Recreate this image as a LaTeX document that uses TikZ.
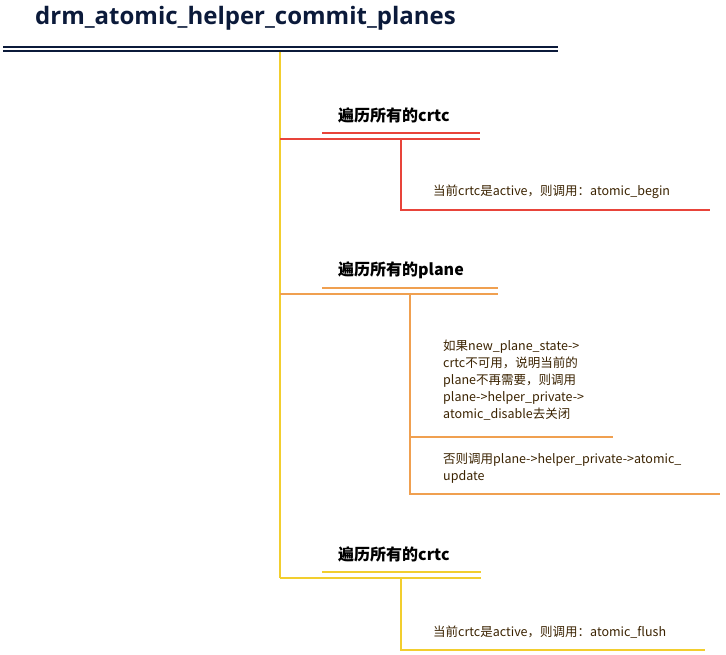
\documentclass[tikz,border=0pt]{standalone}
\usepackage{fontspec}
\setmainfont{Noto Sans CJK SC}
\newfontfamily\titlefont{Open Sans}
\definecolor{cred}{HTML}{E8443A}
\definecolor{corg}{HTML}{F0A050}
\definecolor{cyel}{HTML}{F2CE2E}
\definecolor{cnavy}{HTML}{0B1A3A}
\definecolor{ctext}{HTML}{3A2200}
\begin{document}
\begin{tikzpicture}[x=1pt,y=-1pt,
  lbl/.style={anchor=west,inner sep=0,font=\fontsize{16}{18}\selectfont\bfseries,text=black},
  leaf/.style={anchor=north west,inner sep=0,font=\fontsize{12.5}{17}\selectfont,text=ctext,align=left},
  ln/.style={line width=1.6pt}]
\useasboundingbox (0,0) rectangle (726,655);
\node[anchor=west,inner sep=0,font=\titlefont\fontsize{24}{26}\selectfont\bfseries,text=cnavy] (title) at (35,18) {drm\_atomic\_helper\_commit\_planes};
\draw[cnavy,line width=1.6pt] (3,47) -- (558,47) (3,51) -- (558,51);
\coordinate (root) at (280,52);
\draw[cyel,ln] (root) -- (280,578);
% branch 1
\node[lbl] (b1) at (338,115) {遍历所有的crtc};
\draw[cred,ln] (280,139) -- (480,139) (322,133) -- (480,133);
\draw[cred,ln] (401,139) -- (401,210) -- (710,210);
\node[leaf] (l1) at (433,185) {当前crtc是active，则调用：atomic\_begin};
% branch 2
\node[lbl] (b2) at (338,270) {遍历所有的plane};
\draw[corg,ln] (280,294) -- (498,294) (322,288) -- (498,288);
\draw[corg,ln] (410,294) -- (410,494) -- (720,494);
\draw[corg,ln] (410,437) -- (613,437);
\node[leaf] (l2) at (443,340) {如果new\_plane\_state->\\crtc不可用，说明当前的\\plane不再需要，则调用\\plane->helper\_private->\\atomic\_disable去关闭};
\node[leaf] (l3) at (443,453) {否则调用plane->helper\_private->atomic\_\\update};
% branch 3
\node[lbl] (b3) at (338,554) {遍历所有的crtc};
\draw[cyel,ln] (280,578) -- (481,578) (322,572) -- (481,572);
\draw[cyel,ln] (401,578) -- (401,650) -- (705,650);
\node[leaf] (l4) at (433,626) {当前crtc是active，则调用：atomic\_flush};
\end{tikzpicture}
\end{document}
